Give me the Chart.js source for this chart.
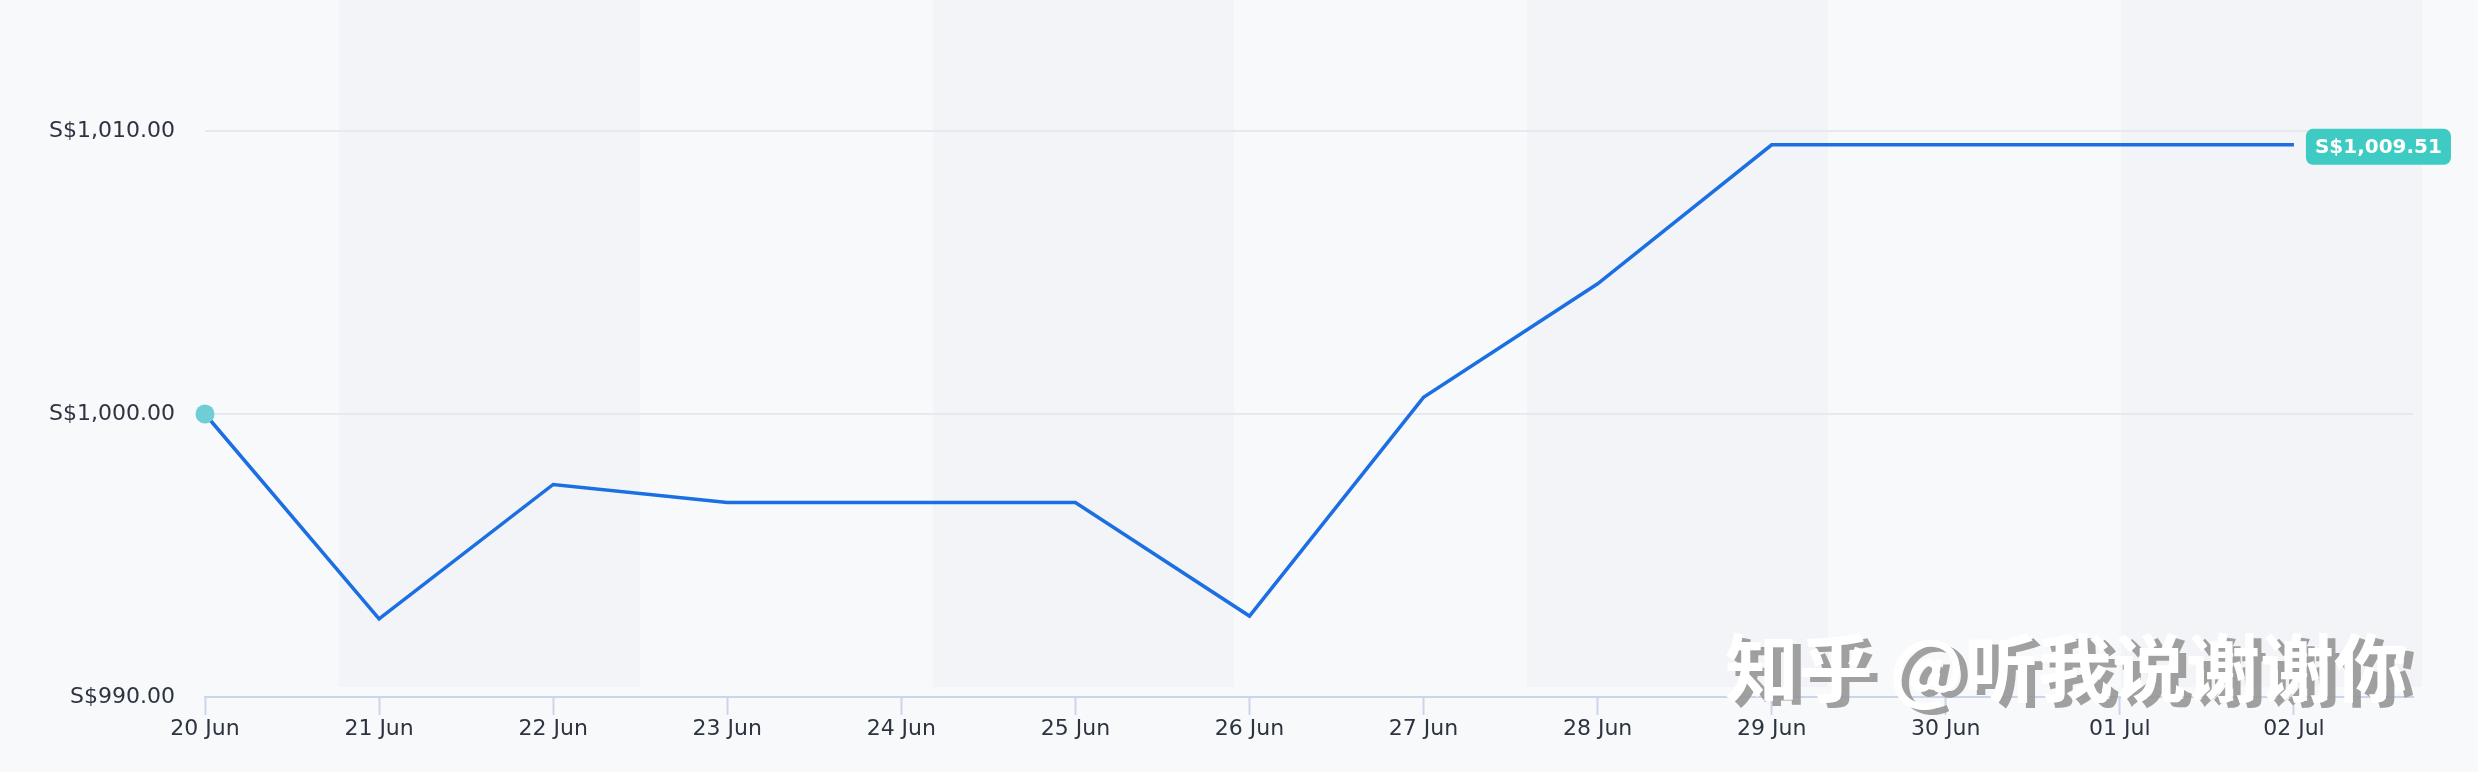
<!DOCTYPE html>
<html>
<head>
<meta charset="utf-8">
<script src="https://cdn.jsdelivr.net/npm/chart.js@4/dist/chart.umd.min.js"></script>
<style>
  html, body { margin: 0; padding: 0; background: #f8f9fb; overflow: hidden; }
  #chart { display: block; }
</style>
</head>
<body>
<canvas id="chart" width="2478" height="772"></canvas>
<script>
// data
const dayLabels = ["20 Jun", "21 Jun", "22 Jun", "23 Jun", "24 Jun", "25 Jun", "26 Jun",
  "27 Jun", "28 Jun", "29 Jun", "30 Jun", "01 Jul", "02 Jul"];
const portfolioValues = [1000.00, 992.76, 997.51, 996.87, 996.87, 996.87, 992.86,
  1000.59, 1004.60, 1009.51, 1009.51, 1009.51, 1009.51];
const yTicks = [990, 1010];

const fmtMoney = (v) => "S$" + v.toLocaleString("en-US", { minimumFractionDigits: 2, maximumFractionDigits: 2 });

// light vertical bands behind the plot (fractions of canvas width)
const bands = [[0.1368, 0.2583], [0.3765, 0.4980], [0.6162, 0.7377], [0.8559, 0.9774]];

const bandsPlugin = {
  id: "bands",
  beforeDraw(chart) {
    const c = chart.ctx;
    c.save();
    c.fillStyle = "#f8f9fb";
    c.fillRect(0, 0, chart.width, chart.height);
    c.fillStyle = "#f3f4f7";
    const bottom = chart.chartArea.bottom - 10;
    bands.forEach(([a, b]) => {
      c.fillRect(a * chart.width, 0, (b - a) * chart.width, bottom);
    });
    c.restore();
  }
};

const endLabelPlugin = {
  id: "endLabel",
  afterDatasetsDraw(chart) {
    const meta = chart.getDatasetMeta(0);
    const last = meta.data[meta.data.length - 1];
    const c = chart.ctx;
    const text = fmtMoney(portfolioValues[portfolioValues.length - 1]);
    c.save();
    c.font = "bold 20px 'DejaVu Sans'";
    const w = c.measureText(text).width + 18;
    const h = 36;
    const x = last.x + 12;
    const y = last.y - h / 2 + 2;
    c.fillStyle = "#3ecbc3";
    c.beginPath();
    c.roundRect(x, y, w, h, 7);
    c.fill();
    c.fillStyle = "#ffffff";
    c.textBaseline = "middle";
    c.fillText(text, x + 9, y + h / 2 + 1);
    c.restore();
  }
};

const watermarkPlugin = {
  id: "watermark",
  afterDraw(chart) {
    const c = chart.ctx;
    const text = "知乎 @听我说谢谢你";
    c.save();
    c.font = "bold 74px 'Noto Sans CJK SC'";
    c.textBaseline = "middle";
    c.textAlign = "right";
    const x = chart.width - 70;
    const y = 668;
    c.fillStyle = "rgba(150,150,150,0.9)";
    c.fillText(text, x + 8, y + 5);
    c.fillStyle = "#ffffff";
    c.fillText(text, x, y);
    c.restore();
  }
};

const points = portfolioValues.map((v, i) => ({ x: i, y: v }));

new Chart(document.getElementById("chart"), {
  type: "line",
  data: {
    datasets: [{
      data: points,
      borderColor: "#1b6fe2",
      borderWidth: 3.5,
      tension: 0,
      pointRadius: (ctx) => (ctx.dataIndex === 0 ? 9.5 : 0),
      pointBackgroundColor: "#6ecdd6",
      pointBorderWidth: 0,
      clip: false
    }]
  },
  options: {
    responsive: false,
    animation: false,
    devicePixelRatio: 1,
    layout: { padding: { top: 131, right: 65, left: 0, bottom: 0 } },
    plugins: { legend: { display: false }, tooltip: { enabled: false } },
    scales: {
      x: {
        type: "linear",
        min: 0,
        max: 12.684,
        afterFit: (s) => { s.height = 75; },
        ticks: {
          stepSize: 1,
          includeBounds: false,
          autoSkip: false,
          maxRotation: 0,
          padding: 1,
          color: "#2d3440",
          font: { family: "DejaVu Sans", size: 22 },
          callback: (v) => (Number.isInteger(v) && dayLabels[v] ? dayLabels[v] : "")
        },
        grid: {
          drawOnChartArea: false,
          drawTicks: true,
          tickLength: 18,
          tickColor: "#ccd6eb",
          tickWidth: 2
        },
        border: { display: true, color: "#ccd6eb", width: 2 }
      },
      y: {
        min: yTicks[0],
        max: yTicks[1],
        afterFit: (s) => { s.width = 205; },
        ticks: {
          stepSize: 10,
          padding: 30,
          color: "#2d3440",
          font: { family: "DejaVu Sans", size: 22 },
          callback: (v) => fmtMoney(v)
        },
        grid: {
          drawTicks: false,
          lineWidth: 2,
          color: (ctx) => (ctx.tick && ctx.tick.value === yTicks[0] ? "rgba(0,0,0,0)" : "#e7e9ee")
        },
        border: { display: false }
      }
    }
  },
  plugins: [bandsPlugin, endLabelPlugin, watermarkPlugin]
});
</script>
</body>
</html>
